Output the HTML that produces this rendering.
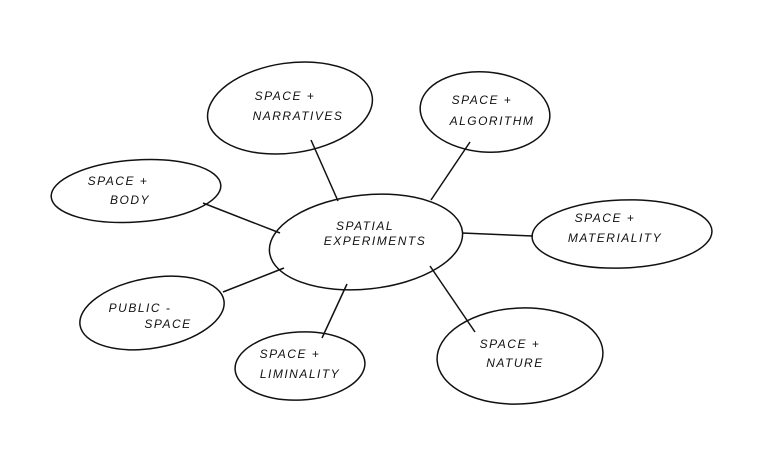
<!DOCTYPE html>
<html><head><style>
html,body{margin:0;padding:0;background:#fff;}
svg text{font-family:"Liberation Sans",sans-serif;font-style:italic;font-size:12px;letter-spacing:1.5px;fill:#111;text-anchor:middle;}
</style></head><body>
<svg width="768" height="457" viewBox="0 0 768 457" xmlns="http://www.w3.org/2000/svg">
<g fill="none" stroke="#111" stroke-width="1.5">
<ellipse cx="366" cy="242" rx="97" ry="47" transform="rotate(-6 366 242)"/>
<ellipse cx="290" cy="108" rx="83" ry="45" transform="rotate(-8 290 108)"/>
<ellipse cx="485" cy="112" rx="65" ry="40" transform="rotate(5 485 112)"/>
<ellipse cx="136" cy="191" rx="85" ry="31" transform="rotate(-4 136 191)"/>
<ellipse cx="622" cy="234" rx="90" ry="34" transform="rotate(-2 622 234)"/>
<ellipse cx="152" cy="313" rx="73" ry="35" transform="rotate(-10 152 313)"/>
<ellipse cx="300" cy="366" rx="65" ry="34" transform="rotate(-3 300 366)"/>
<ellipse cx="520" cy="356" rx="83" ry="48" transform="rotate(-3 520 356)"/>
<line x1="311" y1="140" x2="338" y2="201"/>
<line x1="470" y1="142" x2="431" y2="200"/>
<line x1="203" y1="203" x2="280" y2="233"/>
<line x1="462" y1="233" x2="533" y2="236"/>
<line x1="223" y1="292" x2="284" y2="268"/>
<line x1="347" y1="284" x2="322" y2="338"/>
<line x1="430" y1="266" x2="475" y2="332"/>
</g>
<text x="365" y="230">SPATIAL</text>
<text x="375" y="245">EXPERIMENTS</text>
<text x="285" y="100">SPACE +</text>
<text x="298" y="120">NARRATIVES</text>
<text x="482" y="104">SPACE +</text>
<text x="492" y="125">ALGORITHM</text>
<text x="118" y="185">SPACE +</text>
<text x="130" y="204">BODY</text>
<text x="605" y="222">SPACE +</text>
<text x="615" y="242">MATERIALITY</text>
<text x="140" y="312">PUBLIC -</text>
<text x="168" y="328">SPACE</text>
<text x="290" y="358">SPACE +</text>
<text x="300" y="378">LIMINALITY</text>
<text x="510" y="348">SPACE +</text>
<text x="515" y="367">NATURE</text>
</svg>
</body></html>
